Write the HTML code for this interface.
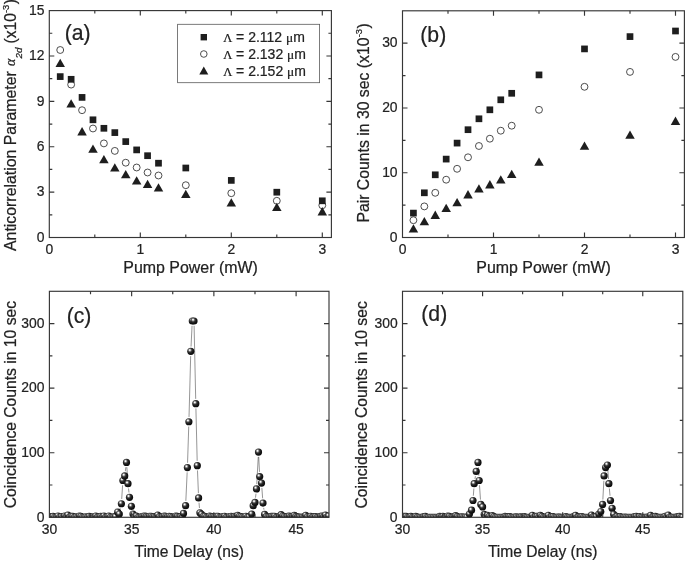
<!DOCTYPE html>
<html lang="en"><head><meta charset="utf-8"><title>Figure</title>
<style>html,body{margin:0;padding:0;background:#fff}svg{display:block}text{font-family:'Liberation Sans', Arial, Helvetica, sans-serif;fill:#222222;stroke:#222222;stroke-width:0.22px}.sy{font-family:'Liberation Serif', 'Times New Roman', serif}</style>
</head><body>
<svg width="685" height="561" viewBox="0 0 685 561">
<defs>
<radialGradient id="sp" cx="0.38" cy="0.35" r="0.64" fx="0.36" fy="0.32"><stop offset="0" stop-color="#ffffff"/><stop offset="0.10" stop-color="#f4f4f4"/><stop offset="0.26" stop-color="#8a8a8a"/><stop offset="0.45" stop-color="#343434"/><stop offset="0.7" stop-color="#181818"/><stop offset="1" stop-color="#0a0a0a"/></radialGradient>
<clipPath id="cc"><rect x="49.4" y="291.3" width="279.6" height="226.4"/></clipPath>
<clipPath id="cd"><rect x="402.5" y="291.3" width="280.3" height="226.4"/></clipPath>
</defs>
<rect width="685" height="561" fill="#fff"/>
<circle cx="60.22" cy="50" r="3.45" fill="#fff" stroke="#2e2e2e" stroke-width="0.85"/>
<circle cx="71.14" cy="84.6" r="3.45" fill="#fff" stroke="#2e2e2e" stroke-width="0.85"/>
<circle cx="82.06" cy="110.2" r="3.45" fill="#fff" stroke="#2e2e2e" stroke-width="0.85"/>
<circle cx="92.98" cy="128.5" r="3.45" fill="#fff" stroke="#2e2e2e" stroke-width="0.85"/>
<circle cx="103.9" cy="143.4" r="3.45" fill="#fff" stroke="#2e2e2e" stroke-width="0.85"/>
<circle cx="114.82" cy="150.9" r="3.45" fill="#fff" stroke="#2e2e2e" stroke-width="0.85"/>
<circle cx="125.74" cy="162.7" r="3.45" fill="#fff" stroke="#2e2e2e" stroke-width="0.85"/>
<circle cx="136.66" cy="167.5" r="3.45" fill="#fff" stroke="#2e2e2e" stroke-width="0.85"/>
<circle cx="147.58" cy="172.5" r="3.45" fill="#fff" stroke="#2e2e2e" stroke-width="0.85"/>
<circle cx="158.5" cy="175.5" r="3.45" fill="#fff" stroke="#2e2e2e" stroke-width="0.85"/>
<circle cx="185.8" cy="185.2" r="3.45" fill="#fff" stroke="#2e2e2e" stroke-width="0.85"/>
<circle cx="231.3" cy="193.2" r="3.45" fill="#fff" stroke="#2e2e2e" stroke-width="0.85"/>
<circle cx="276.8" cy="200.8" r="3.45" fill="#fff" stroke="#2e2e2e" stroke-width="0.85"/>
<circle cx="322.3" cy="205.3" r="3.45" fill="#fff" stroke="#2e2e2e" stroke-width="0.85"/>
<rect x="56.87" y="73.25" width="6.7" height="6.7" fill="#1e1e1e"/>
<rect x="67.79" y="75.95" width="6.7" height="6.7" fill="#1e1e1e"/>
<rect x="78.71" y="94.05" width="6.7" height="6.7" fill="#1e1e1e"/>
<rect x="89.63" y="116.45" width="6.7" height="6.7" fill="#1e1e1e"/>
<rect x="100.55" y="124.95" width="6.7" height="6.7" fill="#1e1e1e"/>
<rect x="111.47" y="129.25" width="6.7" height="6.7" fill="#1e1e1e"/>
<rect x="122.39" y="138.25" width="6.7" height="6.7" fill="#1e1e1e"/>
<rect x="133.31" y="146.55" width="6.7" height="6.7" fill="#1e1e1e"/>
<rect x="144.23" y="152.35" width="6.7" height="6.7" fill="#1e1e1e"/>
<rect x="155.15" y="159.85" width="6.7" height="6.7" fill="#1e1e1e"/>
<rect x="182.45" y="164.65" width="6.7" height="6.7" fill="#1e1e1e"/>
<rect x="227.95" y="177.05" width="6.7" height="6.7" fill="#1e1e1e"/>
<rect x="273.45" y="188.85" width="6.7" height="6.7" fill="#1e1e1e"/>
<rect x="318.95" y="197.45" width="6.7" height="6.7" fill="#1e1e1e"/>
<path d="M60.22 58.8L64.97 67.1L55.47 67.1Z" fill="#1e1e1e"/>
<path d="M71.14 99.3L75.89 107.6L66.39 107.6Z" fill="#1e1e1e"/>
<path d="M82.06 127.1L86.81 135.4L77.31 135.4Z" fill="#1e1e1e"/>
<path d="M92.98 144.4L97.73 152.7L88.23 152.7Z" fill="#1e1e1e"/>
<path d="M103.9 155L108.65 163.3L99.15 163.3Z" fill="#1e1e1e"/>
<path d="M114.82 163.3L119.57 171.6L110.07 171.6Z" fill="#1e1e1e"/>
<path d="M125.74 170L130.49 178.3L120.99 178.3Z" fill="#1e1e1e"/>
<path d="M136.66 176.3L141.41 184.6L131.91 184.6Z" fill="#1e1e1e"/>
<path d="M147.58 179.8L152.33 188.1L142.83 188.1Z" fill="#1e1e1e"/>
<path d="M158.5 183.3L163.25 191.6L153.75 191.6Z" fill="#1e1e1e"/>
<path d="M185.8 189.8L190.55 198.1L181.05 198.1Z" fill="#1e1e1e"/>
<path d="M231.3 198.3L236.05 206.6L226.55 206.6Z" fill="#1e1e1e"/>
<path d="M276.8 202.8L281.55 211.1L272.05 211.1Z" fill="#1e1e1e"/>
<path d="M322.3 207.1L327.05 215.4L317.55 215.4Z" fill="#1e1e1e"/>
<rect x="49.3" y="10.6" width="282.1" height="226.9" fill="none" stroke="#363636" stroke-width="1.15"/>
<path d="M140.3 237.5v-5M140.3 10.6v5M231.3 237.5v-5M231.3 10.6v5M322.3 237.5v-5M322.3 10.6v5M94.8 237.5v-3M94.8 10.6v3M185.8 237.5v-3M185.8 10.6v3M276.8 237.5v-3M276.8 10.6v3M49.3 192.12h5M331.4 192.12h-5M49.3 146.74h5M331.4 146.74h-5M49.3 101.36h5M331.4 101.36h-5M49.3 55.98h5M331.4 55.98h-5M49.3 214.81h3M331.4 214.81h-3M49.3 169.43h3M331.4 169.43h-3M49.3 124.05h3M331.4 124.05h-3M49.3 78.67h3M331.4 78.67h-3M49.3 33.29h3M331.4 33.29h-3" fill="none" stroke="#363636" stroke-width="1.15"/>
<text transform="translate(49.3 253.8) scale(0.965 1)" text-anchor="middle" font-size="14.4">0</text>
<text transform="translate(140.3 253.8) scale(0.965 1)" text-anchor="middle" font-size="14.4">1</text>
<text transform="translate(231.3 253.8) scale(0.965 1)" text-anchor="middle" font-size="14.4">2</text>
<text transform="translate(322.3 253.8) scale(0.965 1)" text-anchor="middle" font-size="14.4">3</text>
<text transform="translate(44.4 241.8) scale(0.965 1)" text-anchor="end" font-size="14.4">0</text>
<text transform="translate(44.4 196.42) scale(0.965 1)" text-anchor="end" font-size="14.4">3</text>
<text transform="translate(44.4 151.04) scale(0.965 1)" text-anchor="end" font-size="14.4">6</text>
<text transform="translate(44.4 105.66) scale(0.965 1)" text-anchor="end" font-size="14.4">9</text>
<text transform="translate(44.4 60.28) scale(0.965 1)" text-anchor="end" font-size="14.4">12</text>
<text transform="translate(44.4 14.9) scale(0.965 1)" text-anchor="end" font-size="14.4">15</text>
<text x="123.3" y="272.5" textLength="134.6" lengthAdjust="spacingAndGlyphs" font-size="15.6">Pump Power (mW)</text>
<g transform="translate(15.6 251) rotate(-90)" font-size="15.6">
<text x="0" y="0" textLength="179.8" lengthAdjust="spacingAndGlyphs">Anticorrelation Parameter</text>
<text x="185" y="-0.8" class="sy" font-style="italic" font-size="14">α</text>
<text x="192.5" y="6" font-style="italic" font-size="9.8">2d</text>
<text x="207.5" y="0">(x10</text>
<text x="238" y="-7" font-size="9.4">-3</text>
<text x="246.8" y="0">)</text>
</g>
<text x="64.7" y="39.9" font-size="21.2">(a)</text>
<rect x="177.6" y="24.3" width="142" height="58.4" fill="#fff" stroke="#5a5a5a" stroke-width="0.8"/>
<rect x="200.6" y="34" width="6.4" height="6.4" fill="#1e1e1e"/>
<circle cx="203.8" cy="54" r="3.3" fill="#fff" stroke="#2e2e2e" stroke-width="0.85"/>
<path d="M203.8 66.6L208.3 74.6L199.3 74.6Z" fill="#1e1e1e"/>
<text x="223.2" y="41.9" font-size="14.0"><tspan class="sy" font-size="12.4">Λ</tspan> = 2.112 <tspan class="sy" font-size="13.4">μ</tspan>m</text>
<text x="223.2" y="58.8" font-size="14.0"><tspan class="sy" font-size="12.4">Λ</tspan> = 2.132 <tspan class="sy" font-size="13.4">μ</tspan>m</text>
<text x="223.2" y="75.7" font-size="14.0"><tspan class="sy" font-size="12.4">Λ</tspan> = 2.152 <tspan class="sy" font-size="13.4">μ</tspan>m</text>
<circle cx="413.42" cy="220.2" r="3.45" fill="#fff" stroke="#2e2e2e" stroke-width="0.85"/>
<circle cx="424.34" cy="206.4" r="3.45" fill="#fff" stroke="#2e2e2e" stroke-width="0.85"/>
<circle cx="435.26" cy="192.8" r="3.45" fill="#fff" stroke="#2e2e2e" stroke-width="0.85"/>
<circle cx="446.18" cy="179.7" r="3.45" fill="#fff" stroke="#2e2e2e" stroke-width="0.85"/>
<circle cx="457.1" cy="168.8" r="3.45" fill="#fff" stroke="#2e2e2e" stroke-width="0.85"/>
<circle cx="468.02" cy="157.3" r="3.45" fill="#fff" stroke="#2e2e2e" stroke-width="0.85"/>
<circle cx="478.94" cy="146" r="3.45" fill="#fff" stroke="#2e2e2e" stroke-width="0.85"/>
<circle cx="489.86" cy="138.7" r="3.45" fill="#fff" stroke="#2e2e2e" stroke-width="0.85"/>
<circle cx="500.78" cy="130.7" r="3.45" fill="#fff" stroke="#2e2e2e" stroke-width="0.85"/>
<circle cx="511.7" cy="125.7" r="3.45" fill="#fff" stroke="#2e2e2e" stroke-width="0.85"/>
<circle cx="539" cy="109.8" r="3.45" fill="#fff" stroke="#2e2e2e" stroke-width="0.85"/>
<circle cx="584.5" cy="86.8" r="3.45" fill="#fff" stroke="#2e2e2e" stroke-width="0.85"/>
<circle cx="630" cy="71.9" r="3.45" fill="#fff" stroke="#2e2e2e" stroke-width="0.85"/>
<circle cx="675.5" cy="56.9" r="3.45" fill="#fff" stroke="#2e2e2e" stroke-width="0.85"/>
<rect x="410.07" y="209.75" width="6.7" height="6.7" fill="#1e1e1e"/>
<rect x="420.99" y="189.45" width="6.7" height="6.7" fill="#1e1e1e"/>
<rect x="431.91" y="171.45" width="6.7" height="6.7" fill="#1e1e1e"/>
<rect x="442.83" y="155.75" width="6.7" height="6.7" fill="#1e1e1e"/>
<rect x="453.75" y="139.75" width="6.7" height="6.7" fill="#1e1e1e"/>
<rect x="464.67" y="126.35" width="6.7" height="6.7" fill="#1e1e1e"/>
<rect x="475.59" y="115.45" width="6.7" height="6.7" fill="#1e1e1e"/>
<rect x="486.51" y="106.45" width="6.7" height="6.7" fill="#1e1e1e"/>
<rect x="497.43" y="96.45" width="6.7" height="6.7" fill="#1e1e1e"/>
<rect x="508.35" y="89.95" width="6.7" height="6.7" fill="#1e1e1e"/>
<rect x="535.65" y="71.55" width="6.7" height="6.7" fill="#1e1e1e"/>
<rect x="581.15" y="45.55" width="6.7" height="6.7" fill="#1e1e1e"/>
<rect x="626.65" y="33.25" width="6.7" height="6.7" fill="#1e1e1e"/>
<rect x="672.15" y="27.65" width="6.7" height="6.7" fill="#1e1e1e"/>
<path d="M413.42 224.3L418.17 232.6L408.67 232.6Z" fill="#1e1e1e"/>
<path d="M424.34 216.9L429.09 225.2L419.59 225.2Z" fill="#1e1e1e"/>
<path d="M435.26 210.6L440.01 218.9L430.51 218.9Z" fill="#1e1e1e"/>
<path d="M446.18 203.8L450.93 212.1L441.43 212.1Z" fill="#1e1e1e"/>
<path d="M457.1 198L461.85 206.3L452.35 206.3Z" fill="#1e1e1e"/>
<path d="M468.02 190.1L472.77 198.4L463.27 198.4Z" fill="#1e1e1e"/>
<path d="M478.94 184.3L483.69 192.6L474.19 192.6Z" fill="#1e1e1e"/>
<path d="M489.86 180.1L494.61 188.4L485.11 188.4Z" fill="#1e1e1e"/>
<path d="M500.78 175.3L505.53 183.6L496.03 183.6Z" fill="#1e1e1e"/>
<path d="M511.7 169.8L516.45 178.1L506.95 178.1Z" fill="#1e1e1e"/>
<path d="M539 157.5L543.75 165.8L534.25 165.8Z" fill="#1e1e1e"/>
<path d="M584.5 141.5L589.25 149.8L579.75 149.8Z" fill="#1e1e1e"/>
<path d="M630 130.5L634.75 138.8L625.25 138.8Z" fill="#1e1e1e"/>
<path d="M675.5 116.6L680.25 124.9L670.75 124.9Z" fill="#1e1e1e"/>
<rect x="402.5" y="10.8" width="281.9" height="226.7" fill="none" stroke="#363636" stroke-width="1.15"/>
<path d="M493.5 237.5v-5M493.5 10.8v5M584.5 237.5v-5M584.5 10.8v5M675.5 237.5v-5M675.5 10.8v5M448 237.5v-3M448 10.8v3M539 237.5v-3M539 10.8v3M630 237.5v-3M630 10.8v3M402.5 172.73h5M684.4 172.73h-5M402.5 107.96h5M684.4 107.96h-5M402.5 43.19h5M684.4 43.19h-5M402.5 205.11h3M684.4 205.11h-3M402.5 140.34h3M684.4 140.34h-3M402.5 75.57h3M684.4 75.57h-3" fill="none" stroke="#363636" stroke-width="1.15"/>
<text transform="translate(402.5 253.8) scale(0.965 1)" text-anchor="middle" font-size="14.4">0</text>
<text transform="translate(493.5 253.8) scale(0.965 1)" text-anchor="middle" font-size="14.4">1</text>
<text transform="translate(584.5 253.8) scale(0.965 1)" text-anchor="middle" font-size="14.4">2</text>
<text transform="translate(675.5 253.8) scale(0.965 1)" text-anchor="middle" font-size="14.4">3</text>
<text transform="translate(397.6 241.8) scale(0.965 1)" text-anchor="end" font-size="14.4">0</text>
<text transform="translate(397.6 177.03) scale(0.965 1)" text-anchor="end" font-size="14.4">10</text>
<text transform="translate(397.6 112.26) scale(0.965 1)" text-anchor="end" font-size="14.4">20</text>
<text transform="translate(397.6 47.49) scale(0.965 1)" text-anchor="end" font-size="14.4">30</text>
<text x="476.3" y="272.7" textLength="134.6" lengthAdjust="spacingAndGlyphs" font-size="15.6">Pump Power (mW)</text>
<g transform="translate(368.9 222.6) rotate(-90)" font-size="15.6">
<text x="0" y="0" textLength="185.1" lengthAdjust="spacingAndGlyphs">Pair Counts in 30 sec (x10</text>
<text x="185.3" y="-7" font-size="9.4">-3</text>
<text x="194.1" y="0">)</text>
</g>
<text x="420.3" y="42.2" font-size="21.2">(b)</text>
<g clip-path="url(#cc)">
<path d="M120.26 509.37L120.44 508.44M121.71 498.95L122.59 485.28M125.33 471.22L125.87 467.17M126.84 467.2L127.66 478.93M128.53 488.49L128.97 492.51M185.83 500.88L187.17 472.37M187.56 462.78L188.74 426.53M189.03 416.94L190.67 356.15M191.04 346.56L192.06 325.8M194.1 325.8L195.7 398.86M195.92 408.45L197.18 460.84M197.49 470.44L198.41 493.13M199.02 502.71L199.48 508M255.53 497.68L255.97 493.66M256.76 484.1L258.24 456.88M258.73 456.88L259.47 471.83M261.86 487.86L262.64 498.31M263.67 507.85L263.93 509.64" fill="none" stroke="#2c2c2c" stroke-width="0.5"/>
<circle cx="49.8" cy="516.65" r="3.6" fill="url(#sp)"/>
<circle cx="51.44" cy="517.11" r="3.6" fill="url(#sp)"/>
<circle cx="53.08" cy="516.46" r="3.6" fill="url(#sp)"/>
<circle cx="54.72" cy="517.3" r="3.6" fill="url(#sp)"/>
<circle cx="56.36" cy="517.3" r="3.6" fill="url(#sp)"/>
<circle cx="58" cy="516.01" r="3.6" fill="url(#sp)"/>
<circle cx="59.64" cy="517.3" r="3.6" fill="url(#sp)"/>
<circle cx="61.28" cy="516.65" r="3.6" fill="url(#sp)"/>
<circle cx="62.92" cy="517.3" r="3.6" fill="url(#sp)"/>
<circle cx="64.56" cy="516.01" r="3.6" fill="url(#sp)"/>
<circle cx="66.2" cy="516.91" r="3.6" fill="url(#sp)"/>
<circle cx="67.84" cy="515.04" r="3.6" fill="url(#sp)"/>
<circle cx="69.48" cy="517.3" r="3.6" fill="url(#sp)"/>
<circle cx="71.12" cy="516.46" r="3.6" fill="url(#sp)"/>
<circle cx="72.76" cy="516.46" r="3.6" fill="url(#sp)"/>
<circle cx="74.4" cy="517.3" r="3.6" fill="url(#sp)"/>
<circle cx="76.04" cy="516.91" r="3.6" fill="url(#sp)"/>
<circle cx="77.68" cy="517.3" r="3.6" fill="url(#sp)"/>
<circle cx="79.32" cy="516.01" r="3.6" fill="url(#sp)"/>
<circle cx="80.96" cy="516.46" r="3.6" fill="url(#sp)"/>
<circle cx="82.6" cy="517.3" r="3.6" fill="url(#sp)"/>
<circle cx="84.24" cy="517.3" r="3.6" fill="url(#sp)"/>
<circle cx="85.88" cy="516.91" r="3.6" fill="url(#sp)"/>
<circle cx="87.52" cy="517.3" r="3.6" fill="url(#sp)"/>
<circle cx="89.16" cy="516.46" r="3.6" fill="url(#sp)"/>
<circle cx="90.8" cy="517.3" r="3.6" fill="url(#sp)"/>
<circle cx="92.44" cy="516.91" r="3.6" fill="url(#sp)"/>
<circle cx="94.08" cy="517.3" r="3.6" fill="url(#sp)"/>
<circle cx="95.72" cy="516.01" r="3.6" fill="url(#sp)"/>
<circle cx="97.36" cy="517.11" r="3.6" fill="url(#sp)"/>
<circle cx="99" cy="516.65" r="3.6" fill="url(#sp)"/>
<circle cx="100.64" cy="516.46" r="3.6" fill="url(#sp)"/>
<circle cx="102.28" cy="517.11" r="3.6" fill="url(#sp)"/>
<circle cx="103.92" cy="516.01" r="3.6" fill="url(#sp)"/>
<circle cx="105.56" cy="517.3" r="3.6" fill="url(#sp)"/>
<circle cx="107.2" cy="516.65" r="3.6" fill="url(#sp)"/>
<circle cx="108.84" cy="516.01" r="3.6" fill="url(#sp)"/>
<circle cx="110.48" cy="517.11" r="3.6" fill="url(#sp)"/>
<circle cx="112.12" cy="517.3" r="3.6" fill="url(#sp)"/>
<circle cx="113.76" cy="516.91" r="3.6" fill="url(#sp)"/>
<circle cx="115.4" cy="516.65" r="3.6" fill="url(#sp)"/>
<circle cx="117.7" cy="512.13" r="3.6" fill="url(#sp)"/>
<circle cx="119.3" cy="514.07" r="3.6" fill="url(#sp)"/>
<circle cx="121.4" cy="503.74" r="3.6" fill="url(#sp)"/>
<circle cx="122.9" cy="480.49" r="3.6" fill="url(#sp)"/>
<circle cx="124.7" cy="475.97" r="3.6" fill="url(#sp)"/>
<circle cx="126.5" cy="462.41" r="3.6" fill="url(#sp)"/>
<circle cx="128" cy="483.72" r="3.6" fill="url(#sp)"/>
<circle cx="129.5" cy="497.28" r="3.6" fill="url(#sp)"/>
<circle cx="131.4" cy="506.32" r="3.6" fill="url(#sp)"/>
<circle cx="133" cy="514.07" r="3.6" fill="url(#sp)"/>
<circle cx="134.72" cy="517.3" r="3.6" fill="url(#sp)"/>
<circle cx="136.36" cy="516.01" r="3.6" fill="url(#sp)"/>
<circle cx="138" cy="517.3" r="3.6" fill="url(#sp)"/>
<circle cx="139.64" cy="517.3" r="3.6" fill="url(#sp)"/>
<circle cx="141.28" cy="516.91" r="3.6" fill="url(#sp)"/>
<circle cx="142.92" cy="516.27" r="3.6" fill="url(#sp)"/>
<circle cx="144.56" cy="516.01" r="3.6" fill="url(#sp)"/>
<circle cx="146.2" cy="516.46" r="3.6" fill="url(#sp)"/>
<circle cx="147.84" cy="516.65" r="3.6" fill="url(#sp)"/>
<circle cx="149.48" cy="516.27" r="3.6" fill="url(#sp)"/>
<circle cx="151.12" cy="516.27" r="3.6" fill="url(#sp)"/>
<circle cx="152.76" cy="516.65" r="3.6" fill="url(#sp)"/>
<circle cx="154.4" cy="516.65" r="3.6" fill="url(#sp)"/>
<circle cx="156.04" cy="516.91" r="3.6" fill="url(#sp)"/>
<circle cx="157.68" cy="515.04" r="3.6" fill="url(#sp)"/>
<circle cx="159.32" cy="516.91" r="3.6" fill="url(#sp)"/>
<circle cx="160.96" cy="517.3" r="3.6" fill="url(#sp)"/>
<circle cx="162.6" cy="516.65" r="3.6" fill="url(#sp)"/>
<circle cx="164.24" cy="516.01" r="3.6" fill="url(#sp)"/>
<circle cx="165.88" cy="516.27" r="3.6" fill="url(#sp)"/>
<circle cx="167.52" cy="516.65" r="3.6" fill="url(#sp)"/>
<circle cx="169.16" cy="516.27" r="3.6" fill="url(#sp)"/>
<circle cx="170.8" cy="516.65" r="3.6" fill="url(#sp)"/>
<circle cx="172.44" cy="517.3" r="3.6" fill="url(#sp)"/>
<circle cx="174.08" cy="517.3" r="3.6" fill="url(#sp)"/>
<circle cx="175.72" cy="516.01" r="3.6" fill="url(#sp)"/>
<circle cx="177.36" cy="516.46" r="3.6" fill="url(#sp)"/>
<circle cx="179" cy="517.11" r="3.6" fill="url(#sp)"/>
<circle cx="180.64" cy="516.65" r="3.6" fill="url(#sp)"/>
<circle cx="182.28" cy="517.11" r="3.6" fill="url(#sp)"/>
<circle cx="183.5" cy="513.43" r="3.6" fill="url(#sp)"/>
<circle cx="185.6" cy="505.68" r="3.6" fill="url(#sp)"/>
<circle cx="187.4" cy="467.58" r="3.6" fill="url(#sp)"/>
<circle cx="188.9" cy="421.73" r="3.6" fill="url(#sp)"/>
<circle cx="190.8" cy="351.35" r="3.6" fill="url(#sp)"/>
<circle cx="192.3" cy="321" r="3.6" fill="url(#sp)"/>
<circle cx="194" cy="321" r="3.6" fill="url(#sp)"/>
<circle cx="195.8" cy="403.65" r="3.6" fill="url(#sp)"/>
<circle cx="197.3" cy="465.64" r="3.6" fill="url(#sp)"/>
<circle cx="198.6" cy="497.93" r="3.6" fill="url(#sp)"/>
<circle cx="199.9" cy="512.78" r="3.6" fill="url(#sp)"/>
<circle cx="201.5" cy="514.39" r="3.6" fill="url(#sp)"/>
<circle cx="203.22" cy="516.27" r="3.6" fill="url(#sp)"/>
<circle cx="204.86" cy="516.46" r="3.6" fill="url(#sp)"/>
<circle cx="206.5" cy="517.3" r="3.6" fill="url(#sp)"/>
<circle cx="208.14" cy="517.3" r="3.6" fill="url(#sp)"/>
<circle cx="209.78" cy="516.01" r="3.6" fill="url(#sp)"/>
<circle cx="211.42" cy="516.65" r="3.6" fill="url(#sp)"/>
<circle cx="213.06" cy="516.65" r="3.6" fill="url(#sp)"/>
<circle cx="214.7" cy="516.65" r="3.6" fill="url(#sp)"/>
<circle cx="216.34" cy="516.27" r="3.6" fill="url(#sp)"/>
<circle cx="217.98" cy="516.27" r="3.6" fill="url(#sp)"/>
<circle cx="219.62" cy="517.3" r="3.6" fill="url(#sp)"/>
<circle cx="221.26" cy="517.3" r="3.6" fill="url(#sp)"/>
<circle cx="222.9" cy="516.65" r="3.6" fill="url(#sp)"/>
<circle cx="224.54" cy="516.27" r="3.6" fill="url(#sp)"/>
<circle cx="226.18" cy="517.3" r="3.6" fill="url(#sp)"/>
<circle cx="227.82" cy="517.3" r="3.6" fill="url(#sp)"/>
<circle cx="229.46" cy="516.65" r="3.6" fill="url(#sp)"/>
<circle cx="231.1" cy="516.27" r="3.6" fill="url(#sp)"/>
<circle cx="232.74" cy="516.65" r="3.6" fill="url(#sp)"/>
<circle cx="234.38" cy="516.46" r="3.6" fill="url(#sp)"/>
<circle cx="236.02" cy="516.65" r="3.6" fill="url(#sp)"/>
<circle cx="237.66" cy="515.36" r="3.6" fill="url(#sp)"/>
<circle cx="239.3" cy="516.27" r="3.6" fill="url(#sp)"/>
<circle cx="240.94" cy="516.65" r="3.6" fill="url(#sp)"/>
<circle cx="242.58" cy="517.11" r="3.6" fill="url(#sp)"/>
<circle cx="244.22" cy="517.3" r="3.6" fill="url(#sp)"/>
<circle cx="245.86" cy="516.27" r="3.6" fill="url(#sp)"/>
<circle cx="247.5" cy="517.3" r="3.6" fill="url(#sp)"/>
<circle cx="249.14" cy="516.91" r="3.6" fill="url(#sp)"/>
<circle cx="251.7" cy="514.07" r="3.6" fill="url(#sp)"/>
<circle cx="253.2" cy="505.68" r="3.6" fill="url(#sp)"/>
<circle cx="255" cy="502.45" r="3.6" fill="url(#sp)"/>
<circle cx="256.5" cy="488.89" r="3.6" fill="url(#sp)"/>
<circle cx="258.5" cy="452.08" r="3.6" fill="url(#sp)"/>
<circle cx="259.7" cy="476.62" r="3.6" fill="url(#sp)"/>
<circle cx="261.5" cy="483.08" r="3.6" fill="url(#sp)"/>
<circle cx="263" cy="503.09" r="3.6" fill="url(#sp)"/>
<circle cx="264.6" cy="514.39" r="3.6" fill="url(#sp)"/>
<circle cx="266.32" cy="516.65" r="3.6" fill="url(#sp)"/>
<circle cx="267.96" cy="517.11" r="3.6" fill="url(#sp)"/>
<circle cx="269.6" cy="516.91" r="3.6" fill="url(#sp)"/>
<circle cx="271.24" cy="516.46" r="3.6" fill="url(#sp)"/>
<circle cx="272.88" cy="516.46" r="3.6" fill="url(#sp)"/>
<circle cx="274.52" cy="516.27" r="3.6" fill="url(#sp)"/>
<circle cx="276.16" cy="517.3" r="3.6" fill="url(#sp)"/>
<circle cx="277.8" cy="517.11" r="3.6" fill="url(#sp)"/>
<circle cx="279.44" cy="516.27" r="3.6" fill="url(#sp)"/>
<circle cx="281.08" cy="514.72" r="3.6" fill="url(#sp)"/>
<circle cx="282.72" cy="516.01" r="3.6" fill="url(#sp)"/>
<circle cx="284.36" cy="516.65" r="3.6" fill="url(#sp)"/>
<circle cx="286" cy="517.11" r="3.6" fill="url(#sp)"/>
<circle cx="287.64" cy="516.46" r="3.6" fill="url(#sp)"/>
<circle cx="289.28" cy="516.01" r="3.6" fill="url(#sp)"/>
<circle cx="290.92" cy="516.65" r="3.6" fill="url(#sp)"/>
<circle cx="292.56" cy="516.46" r="3.6" fill="url(#sp)"/>
<circle cx="294.2" cy="515.36" r="3.6" fill="url(#sp)"/>
<circle cx="295.84" cy="516.46" r="3.6" fill="url(#sp)"/>
<circle cx="297.48" cy="516.91" r="3.6" fill="url(#sp)"/>
<circle cx="299.12" cy="517.11" r="3.6" fill="url(#sp)"/>
<circle cx="300.76" cy="517.3" r="3.6" fill="url(#sp)"/>
<circle cx="302.4" cy="517.11" r="3.6" fill="url(#sp)"/>
<circle cx="304.04" cy="517.11" r="3.6" fill="url(#sp)"/>
<circle cx="305.68" cy="515.36" r="3.6" fill="url(#sp)"/>
<circle cx="307.32" cy="516.91" r="3.6" fill="url(#sp)"/>
<circle cx="308.96" cy="517.3" r="3.6" fill="url(#sp)"/>
<circle cx="310.6" cy="516.27" r="3.6" fill="url(#sp)"/>
<circle cx="312.24" cy="517.11" r="3.6" fill="url(#sp)"/>
<circle cx="313.88" cy="516.65" r="3.6" fill="url(#sp)"/>
<circle cx="315.52" cy="516.65" r="3.6" fill="url(#sp)"/>
<circle cx="317.16" cy="517.3" r="3.6" fill="url(#sp)"/>
<circle cx="318.8" cy="517.11" r="3.6" fill="url(#sp)"/>
<circle cx="320.44" cy="516.46" r="3.6" fill="url(#sp)"/>
<circle cx="322.08" cy="516.01" r="3.6" fill="url(#sp)"/>
<circle cx="323.72" cy="516.65" r="3.6" fill="url(#sp)"/>
<circle cx="325.36" cy="515.04" r="3.6" fill="url(#sp)"/>
<circle cx="327" cy="517.11" r="3.6" fill="url(#sp)"/>
<circle cx="328.64" cy="516.01" r="3.6" fill="url(#sp)"/>
</g>
<rect x="49.4" y="291.3" width="279.6" height="226" fill="none" stroke="#363636" stroke-width="1.15"/>
<path d="M131.64 517.3v-5M131.64 291.3v5M213.87 517.3v-5M213.87 291.3v5M296.11 517.3v-5M296.11 291.3v5M90.52 517.3v-3M90.52 291.3v3M172.75 517.3v-3M172.75 291.3v3M254.99 517.3v-3M254.99 291.3v3M49.4 452.73h5M329 452.73h-5M49.4 388.16h5M329 388.16h-5M49.4 323.59h5M329 323.59h-5M49.4 485.01h3M329 485.01h-3M49.4 420.44h3M329 420.44h-3M49.4 355.87h3M329 355.87h-3" fill="none" stroke="#363636" stroke-width="1.15"/>
<text transform="translate(49.4 533.6) scale(0.965 1)" text-anchor="middle" font-size="14.4">30</text>
<text transform="translate(131.64 533.6) scale(0.965 1)" text-anchor="middle" font-size="14.4">35</text>
<text transform="translate(213.87 533.6) scale(0.965 1)" text-anchor="middle" font-size="14.4">40</text>
<text transform="translate(296.11 533.6) scale(0.965 1)" text-anchor="middle" font-size="14.4">45</text>
<text transform="translate(44.5 521.6) scale(0.965 1)" text-anchor="end" font-size="14.4">0</text>
<text transform="translate(44.5 457.03) scale(0.965 1)" text-anchor="end" font-size="14.4">100</text>
<text transform="translate(44.5 392.46) scale(0.965 1)" text-anchor="end" font-size="14.4">200</text>
<text transform="translate(44.5 327.89) scale(0.965 1)" text-anchor="end" font-size="14.4">300</text>
<text x="189.2" y="557.2" text-anchor="middle" font-size="15.6">Time Delay (ns)</text>
<text transform="translate(15.6 508.3) rotate(-90) scale(1.006 1)" font-size="15.6">Coincidence Counts in 10 sec</text>
<text x="66.7" y="323.4" font-size="21.2">(c)</text>
<g clip-path="url(#cd)">
<path d="M473.34 495.72L473.86 488.51M474.97 478.99L475.43 476.19M478.32 467.2L478.88 475.7M479.52 485.28L480.48 499.6M602.85 499.59L603.85 480.77M607.78 469.78L608.52 478.94M609.36 488.5L610.04 495.73" fill="none" stroke="#2c2c2c" stroke-width="0.5"/>
<circle cx="402.9" cy="516.46" r="3.6" fill="url(#sp)"/>
<circle cx="404.5" cy="516.46" r="3.6" fill="url(#sp)"/>
<circle cx="406.1" cy="516.46" r="3.6" fill="url(#sp)"/>
<circle cx="407.7" cy="517.3" r="3.6" fill="url(#sp)"/>
<circle cx="409.3" cy="517.3" r="3.6" fill="url(#sp)"/>
<circle cx="410.9" cy="516.46" r="3.6" fill="url(#sp)"/>
<circle cx="412.5" cy="517.3" r="3.6" fill="url(#sp)"/>
<circle cx="414.1" cy="517.3" r="3.6" fill="url(#sp)"/>
<circle cx="415.7" cy="516.46" r="3.6" fill="url(#sp)"/>
<circle cx="417.3" cy="517.11" r="3.6" fill="url(#sp)"/>
<circle cx="418.9" cy="517.3" r="3.6" fill="url(#sp)"/>
<circle cx="420.5" cy="517.3" r="3.6" fill="url(#sp)"/>
<circle cx="422.1" cy="517.3" r="3.6" fill="url(#sp)"/>
<circle cx="423.7" cy="516.65" r="3.6" fill="url(#sp)"/>
<circle cx="425.3" cy="516.46" r="3.6" fill="url(#sp)"/>
<circle cx="426.9" cy="517.3" r="3.6" fill="url(#sp)"/>
<circle cx="428.5" cy="517.3" r="3.6" fill="url(#sp)"/>
<circle cx="430.1" cy="517.3" r="3.6" fill="url(#sp)"/>
<circle cx="431.7" cy="517.3" r="3.6" fill="url(#sp)"/>
<circle cx="433.3" cy="517.3" r="3.6" fill="url(#sp)"/>
<circle cx="434.9" cy="517.3" r="3.6" fill="url(#sp)"/>
<circle cx="436.5" cy="517.3" r="3.6" fill="url(#sp)"/>
<circle cx="438.1" cy="517.3" r="3.6" fill="url(#sp)"/>
<circle cx="439.7" cy="516.46" r="3.6" fill="url(#sp)"/>
<circle cx="441.3" cy="516.91" r="3.6" fill="url(#sp)"/>
<circle cx="442.9" cy="516.46" r="3.6" fill="url(#sp)"/>
<circle cx="444.5" cy="517.3" r="3.6" fill="url(#sp)"/>
<circle cx="446.1" cy="517.3" r="3.6" fill="url(#sp)"/>
<circle cx="447.7" cy="516.01" r="3.6" fill="url(#sp)"/>
<circle cx="449.3" cy="516.46" r="3.6" fill="url(#sp)"/>
<circle cx="450.9" cy="517.3" r="3.6" fill="url(#sp)"/>
<circle cx="452.5" cy="517.3" r="3.6" fill="url(#sp)"/>
<circle cx="454.1" cy="516.46" r="3.6" fill="url(#sp)"/>
<circle cx="455.7" cy="515.69" r="3.6" fill="url(#sp)"/>
<circle cx="457.3" cy="516.65" r="3.6" fill="url(#sp)"/>
<circle cx="458.9" cy="517.3" r="3.6" fill="url(#sp)"/>
<circle cx="460.5" cy="517.11" r="3.6" fill="url(#sp)"/>
<circle cx="462.1" cy="516.91" r="3.6" fill="url(#sp)"/>
<circle cx="463.7" cy="517.3" r="3.6" fill="url(#sp)"/>
<circle cx="465.3" cy="517.11" r="3.6" fill="url(#sp)"/>
<circle cx="466.9" cy="517.3" r="3.6" fill="url(#sp)"/>
<circle cx="469.4" cy="514.07" r="3.6" fill="url(#sp)"/>
<circle cx="471.5" cy="510.2" r="3.6" fill="url(#sp)"/>
<circle cx="473" cy="500.51" r="3.6" fill="url(#sp)"/>
<circle cx="474.2" cy="483.72" r="3.6" fill="url(#sp)"/>
<circle cx="476.2" cy="471.45" r="3.6" fill="url(#sp)"/>
<circle cx="478" cy="462.41" r="3.6" fill="url(#sp)"/>
<circle cx="479.2" cy="480.49" r="3.6" fill="url(#sp)"/>
<circle cx="480.8" cy="504.39" r="3.6" fill="url(#sp)"/>
<circle cx="482.6" cy="506.97" r="3.6" fill="url(#sp)"/>
<circle cx="484.2" cy="514.39" r="3.6" fill="url(#sp)"/>
<circle cx="485.88" cy="517.3" r="3.6" fill="url(#sp)"/>
<circle cx="487.48" cy="515.36" r="3.6" fill="url(#sp)"/>
<circle cx="489.08" cy="516.65" r="3.6" fill="url(#sp)"/>
<circle cx="490.68" cy="517.3" r="3.6" fill="url(#sp)"/>
<circle cx="492.28" cy="515.69" r="3.6" fill="url(#sp)"/>
<circle cx="493.88" cy="516.65" r="3.6" fill="url(#sp)"/>
<circle cx="495.48" cy="517.3" r="3.6" fill="url(#sp)"/>
<circle cx="497.08" cy="517.3" r="3.6" fill="url(#sp)"/>
<circle cx="498.68" cy="517.3" r="3.6" fill="url(#sp)"/>
<circle cx="500.28" cy="517.3" r="3.6" fill="url(#sp)"/>
<circle cx="501.88" cy="517.3" r="3.6" fill="url(#sp)"/>
<circle cx="503.48" cy="517.3" r="3.6" fill="url(#sp)"/>
<circle cx="505.08" cy="516.46" r="3.6" fill="url(#sp)"/>
<circle cx="506.68" cy="516.65" r="3.6" fill="url(#sp)"/>
<circle cx="508.28" cy="516.65" r="3.6" fill="url(#sp)"/>
<circle cx="509.88" cy="516.65" r="3.6" fill="url(#sp)"/>
<circle cx="511.48" cy="517.3" r="3.6" fill="url(#sp)"/>
<circle cx="513.08" cy="517.3" r="3.6" fill="url(#sp)"/>
<circle cx="514.68" cy="517.11" r="3.6" fill="url(#sp)"/>
<circle cx="516.28" cy="516.91" r="3.6" fill="url(#sp)"/>
<circle cx="517.88" cy="517.3" r="3.6" fill="url(#sp)"/>
<circle cx="519.48" cy="517.11" r="3.6" fill="url(#sp)"/>
<circle cx="521.08" cy="516.91" r="3.6" fill="url(#sp)"/>
<circle cx="522.68" cy="517.3" r="3.6" fill="url(#sp)"/>
<circle cx="524.28" cy="516.65" r="3.6" fill="url(#sp)"/>
<circle cx="525.88" cy="517.3" r="3.6" fill="url(#sp)"/>
<circle cx="527.48" cy="517.3" r="3.6" fill="url(#sp)"/>
<circle cx="529.08" cy="517.3" r="3.6" fill="url(#sp)"/>
<circle cx="530.68" cy="517.3" r="3.6" fill="url(#sp)"/>
<circle cx="532.28" cy="515.36" r="3.6" fill="url(#sp)"/>
<circle cx="533.88" cy="517.3" r="3.6" fill="url(#sp)"/>
<circle cx="535.48" cy="516.46" r="3.6" fill="url(#sp)"/>
<circle cx="537.08" cy="516.46" r="3.6" fill="url(#sp)"/>
<circle cx="538.68" cy="517.3" r="3.6" fill="url(#sp)"/>
<circle cx="540.28" cy="515.36" r="3.6" fill="url(#sp)"/>
<circle cx="541.88" cy="516.46" r="3.6" fill="url(#sp)"/>
<circle cx="543.48" cy="517.3" r="3.6" fill="url(#sp)"/>
<circle cx="545.08" cy="517.3" r="3.6" fill="url(#sp)"/>
<circle cx="546.68" cy="516.65" r="3.6" fill="url(#sp)"/>
<circle cx="548.28" cy="515.36" r="3.6" fill="url(#sp)"/>
<circle cx="549.88" cy="517.3" r="3.6" fill="url(#sp)"/>
<circle cx="551.48" cy="516.65" r="3.6" fill="url(#sp)"/>
<circle cx="553.08" cy="516.65" r="3.6" fill="url(#sp)"/>
<circle cx="554.68" cy="517.3" r="3.6" fill="url(#sp)"/>
<circle cx="556.28" cy="517.3" r="3.6" fill="url(#sp)"/>
<circle cx="557.88" cy="517.11" r="3.6" fill="url(#sp)"/>
<circle cx="559.48" cy="517.11" r="3.6" fill="url(#sp)"/>
<circle cx="561.08" cy="517.3" r="3.6" fill="url(#sp)"/>
<circle cx="562.68" cy="517.3" r="3.6" fill="url(#sp)"/>
<circle cx="564.28" cy="517.3" r="3.6" fill="url(#sp)"/>
<circle cx="565.88" cy="516.65" r="3.6" fill="url(#sp)"/>
<circle cx="567.48" cy="517.3" r="3.6" fill="url(#sp)"/>
<circle cx="569.08" cy="517.3" r="3.6" fill="url(#sp)"/>
<circle cx="570.68" cy="517.3" r="3.6" fill="url(#sp)"/>
<circle cx="572.28" cy="517.3" r="3.6" fill="url(#sp)"/>
<circle cx="573.88" cy="516.46" r="3.6" fill="url(#sp)"/>
<circle cx="575.48" cy="515.36" r="3.6" fill="url(#sp)"/>
<circle cx="577.08" cy="517.3" r="3.6" fill="url(#sp)"/>
<circle cx="578.68" cy="516.91" r="3.6" fill="url(#sp)"/>
<circle cx="580.28" cy="517.11" r="3.6" fill="url(#sp)"/>
<circle cx="581.88" cy="516.65" r="3.6" fill="url(#sp)"/>
<circle cx="583.48" cy="517.3" r="3.6" fill="url(#sp)"/>
<circle cx="585.08" cy="517.3" r="3.6" fill="url(#sp)"/>
<circle cx="586.68" cy="517.3" r="3.6" fill="url(#sp)"/>
<circle cx="588.28" cy="517.3" r="3.6" fill="url(#sp)"/>
<circle cx="589.88" cy="517.3" r="3.6" fill="url(#sp)"/>
<circle cx="591.48" cy="515.04" r="3.6" fill="url(#sp)"/>
<circle cx="593.08" cy="516.91" r="3.6" fill="url(#sp)"/>
<circle cx="594.68" cy="516.91" r="3.6" fill="url(#sp)"/>
<circle cx="596.28" cy="516.46" r="3.6" fill="url(#sp)"/>
<circle cx="598.8" cy="514.07" r="3.6" fill="url(#sp)"/>
<circle cx="600.8" cy="511.49" r="3.6" fill="url(#sp)"/>
<circle cx="602.6" cy="504.39" r="3.6" fill="url(#sp)"/>
<circle cx="604.1" cy="475.97" r="3.6" fill="url(#sp)"/>
<circle cx="605.6" cy="467.58" r="3.6" fill="url(#sp)"/>
<circle cx="607.4" cy="465" r="3.6" fill="url(#sp)"/>
<circle cx="608.9" cy="483.72" r="3.6" fill="url(#sp)"/>
<circle cx="610.5" cy="500.51" r="3.6" fill="url(#sp)"/>
<circle cx="612.1" cy="508.26" r="3.6" fill="url(#sp)"/>
<circle cx="613.7" cy="514.39" r="3.6" fill="url(#sp)"/>
<circle cx="615.38" cy="517.3" r="3.6" fill="url(#sp)"/>
<circle cx="616.98" cy="516.46" r="3.6" fill="url(#sp)"/>
<circle cx="618.58" cy="517.3" r="3.6" fill="url(#sp)"/>
<circle cx="620.18" cy="516.65" r="3.6" fill="url(#sp)"/>
<circle cx="621.78" cy="517.3" r="3.6" fill="url(#sp)"/>
<circle cx="623.38" cy="517.3" r="3.6" fill="url(#sp)"/>
<circle cx="624.98" cy="517.11" r="3.6" fill="url(#sp)"/>
<circle cx="626.58" cy="517.3" r="3.6" fill="url(#sp)"/>
<circle cx="628.18" cy="517.3" r="3.6" fill="url(#sp)"/>
<circle cx="629.78" cy="517.3" r="3.6" fill="url(#sp)"/>
<circle cx="631.38" cy="517.3" r="3.6" fill="url(#sp)"/>
<circle cx="632.98" cy="517.3" r="3.6" fill="url(#sp)"/>
<circle cx="634.58" cy="516.65" r="3.6" fill="url(#sp)"/>
<circle cx="636.18" cy="516.46" r="3.6" fill="url(#sp)"/>
<circle cx="637.78" cy="517.3" r="3.6" fill="url(#sp)"/>
<circle cx="639.38" cy="516.65" r="3.6" fill="url(#sp)"/>
<circle cx="640.98" cy="517.3" r="3.6" fill="url(#sp)"/>
<circle cx="642.58" cy="517.3" r="3.6" fill="url(#sp)"/>
<circle cx="644.18" cy="517.3" r="3.6" fill="url(#sp)"/>
<circle cx="645.78" cy="517.3" r="3.6" fill="url(#sp)"/>
<circle cx="647.38" cy="517.11" r="3.6" fill="url(#sp)"/>
<circle cx="648.98" cy="517.3" r="3.6" fill="url(#sp)"/>
<circle cx="650.58" cy="515.36" r="3.6" fill="url(#sp)"/>
<circle cx="652.18" cy="517.11" r="3.6" fill="url(#sp)"/>
<circle cx="653.78" cy="516.65" r="3.6" fill="url(#sp)"/>
<circle cx="655.38" cy="516.46" r="3.6" fill="url(#sp)"/>
<circle cx="656.98" cy="517.11" r="3.6" fill="url(#sp)"/>
<circle cx="658.58" cy="517.3" r="3.6" fill="url(#sp)"/>
<circle cx="660.18" cy="517.3" r="3.6" fill="url(#sp)"/>
<circle cx="661.78" cy="517.3" r="3.6" fill="url(#sp)"/>
<circle cx="663.38" cy="517.3" r="3.6" fill="url(#sp)"/>
<circle cx="664.98" cy="516.46" r="3.6" fill="url(#sp)"/>
<circle cx="666.58" cy="517.3" r="3.6" fill="url(#sp)"/>
<circle cx="668.18" cy="515.04" r="3.6" fill="url(#sp)"/>
<circle cx="669.78" cy="517.3" r="3.6" fill="url(#sp)"/>
<circle cx="671.38" cy="517.3" r="3.6" fill="url(#sp)"/>
<circle cx="672.98" cy="517.3" r="3.6" fill="url(#sp)"/>
<circle cx="674.58" cy="517.3" r="3.6" fill="url(#sp)"/>
<circle cx="676.18" cy="517.11" r="3.6" fill="url(#sp)"/>
<circle cx="677.78" cy="516.65" r="3.6" fill="url(#sp)"/>
<circle cx="679.38" cy="516.46" r="3.6" fill="url(#sp)"/>
<circle cx="680.98" cy="517.3" r="3.6" fill="url(#sp)"/>
<circle cx="682.58" cy="517.3" r="3.6" fill="url(#sp)"/>
</g>
<rect x="402.5" y="291.3" width="280.3" height="226" fill="none" stroke="#363636" stroke-width="1.15"/>
<path d="M482.59 517.3v-5M482.59 291.3v5M562.67 517.3v-5M562.67 291.3v5M642.76 517.3v-5M642.76 291.3v5M442.54 517.3v-3M442.54 291.3v3M522.63 517.3v-3M522.63 291.3v3M602.71 517.3v-3M602.71 291.3v3M402.5 452.73h5M682.8 452.73h-5M402.5 388.16h5M682.8 388.16h-5M402.5 323.59h5M682.8 323.59h-5M402.5 485.01h3M682.8 485.01h-3M402.5 420.44h3M682.8 420.44h-3M402.5 355.87h3M682.8 355.87h-3" fill="none" stroke="#363636" stroke-width="1.15"/>
<text transform="translate(402.5 533.6) scale(0.965 1)" text-anchor="middle" font-size="14.4">30</text>
<text transform="translate(482.59 533.6) scale(0.965 1)" text-anchor="middle" font-size="14.4">35</text>
<text transform="translate(562.67 533.6) scale(0.965 1)" text-anchor="middle" font-size="14.4">40</text>
<text transform="translate(642.76 533.6) scale(0.965 1)" text-anchor="middle" font-size="14.4">45</text>
<text transform="translate(397.6 521.6) scale(0.965 1)" text-anchor="end" font-size="14.4">0</text>
<text transform="translate(397.6 457.03) scale(0.965 1)" text-anchor="end" font-size="14.4">100</text>
<text transform="translate(397.6 392.46) scale(0.965 1)" text-anchor="end" font-size="14.4">200</text>
<text transform="translate(397.6 327.89) scale(0.965 1)" text-anchor="end" font-size="14.4">300</text>
<text x="542.65" y="557.2" text-anchor="middle" font-size="15.6">Time Delay (ns)</text>
<text transform="translate(367.1 508.6) rotate(-90) scale(1.006 1)" font-size="15.6">Coincidence Counts in 10 sec</text>
<text x="421.3" y="320.8" font-size="21.2">(d)</text>
</svg></body></html>
